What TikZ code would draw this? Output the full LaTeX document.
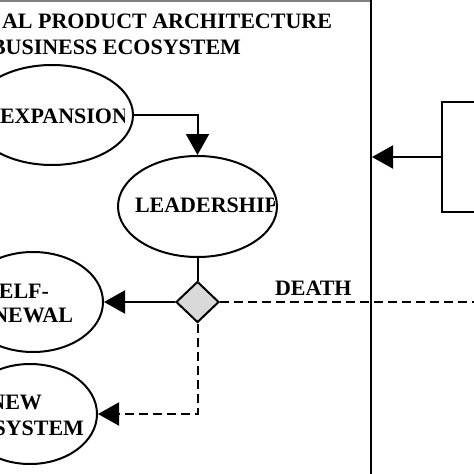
\documentclass[tikz,border=0pt]{standalone}
\usepackage{fontspec}
\setmainfont{Liberation Serif}
\usetikzlibrary{arrows.meta,shapes.geometric}
\begin{document}
\begin{tikzpicture}[x=1pt,y=-1pt,
  line width=2pt,
  lbl/.style={inner sep=0pt,font=\fontsize{22}{25}\selectfont\bfseries},
  oval/.style={draw,ellipse,inner sep=0pt},
  tip/.style={-{Triangle[length=21pt,width=23pt]}},
  dsh/.style={dash pattern=on 9pt off 5pt}]
\useasboundingbox (0,0) rectangle (474,474);
\clip (0,0) rectangle (474,474);
% frame of the big box
\draw[gray,line width=2pt] (-5,1) -- (371,1);
\coordinate (ftop) at (371,-5);
\coordinate (fbot) at (371,480);
\draw[line width=2pt] (ftop) -- (fbot);
% title
\node[lbl,anchor=base west] (t1) at (1,28) {AL PRODUCT ARCHITECTURE};
\node[lbl,anchor=base west] (t2) at (-10,54) {BUSINESS ECOSYSTEM};
% ellipses
\node[oval,minimum width=162pt,minimum height=100pt] (exp) at (52,115) {};
\node[oval,minimum width=159pt,minimum height=101pt] (lead) at (197.5,206.5) {};
\node[oval,minimum width=140pt,minimum height=100pt] (self) at (33,302) {};
\node[oval,minimum width=134pt,minimum height=100pt] (neweco) at (30,414) {};
% texts
\begin{scope}
\clip (-5,60) rectangle (124,170);
\node[lbl,anchor=base west] (texp) at (-1,123) {EXPANSION};
\end{scope}
\begin{scope}
\clip (197.5,206.5) ellipse [x radius=77, y radius=49];
\node[lbl,anchor=base west] (tlead) at (134,212) {LEADERSHIP};
\end{scope}
\node[lbl,anchor=base east] (ts1) at (50,298) {SELF-};
\node[lbl,anchor=base east] (ts2) at (74,322) {RENEWAL};
\node[lbl,anchor=base east] (tn1) at (43,409) {NEW};
\node[lbl,anchor=base east] (tn2) at (85,435) {ECOSYSTEM};
% diamond
\node[draw,diamond,fill=gray!30,minimum width=43pt,minimum height=41pt,inner sep=0pt] (dia) at (197.5,302) {};
\node[lbl,anchor=base west] (death) at (274,295) {DEATH};
% right box
\node[draw,rectangle,minimum width=100pt,minimum height=110pt,inner sep=0pt] (rbox) at (492,157) {};
\coordinate (bx) at (372,157);
\coordinate (dashend) at (480,302);
% connectors
\draw[tip] (exp.east) -| (lead.north);
\draw (lead.south) -- (dia.north);
\draw[tip] (dia.west) -- (self.east);
\draw[dsh] (dia.east) -- (dashend);
\draw[dsh,tip] (dia.south) |- (neweco.east);
\draw[tip] (rbox.west) -- (bx);
\end{tikzpicture}
\end{document}
